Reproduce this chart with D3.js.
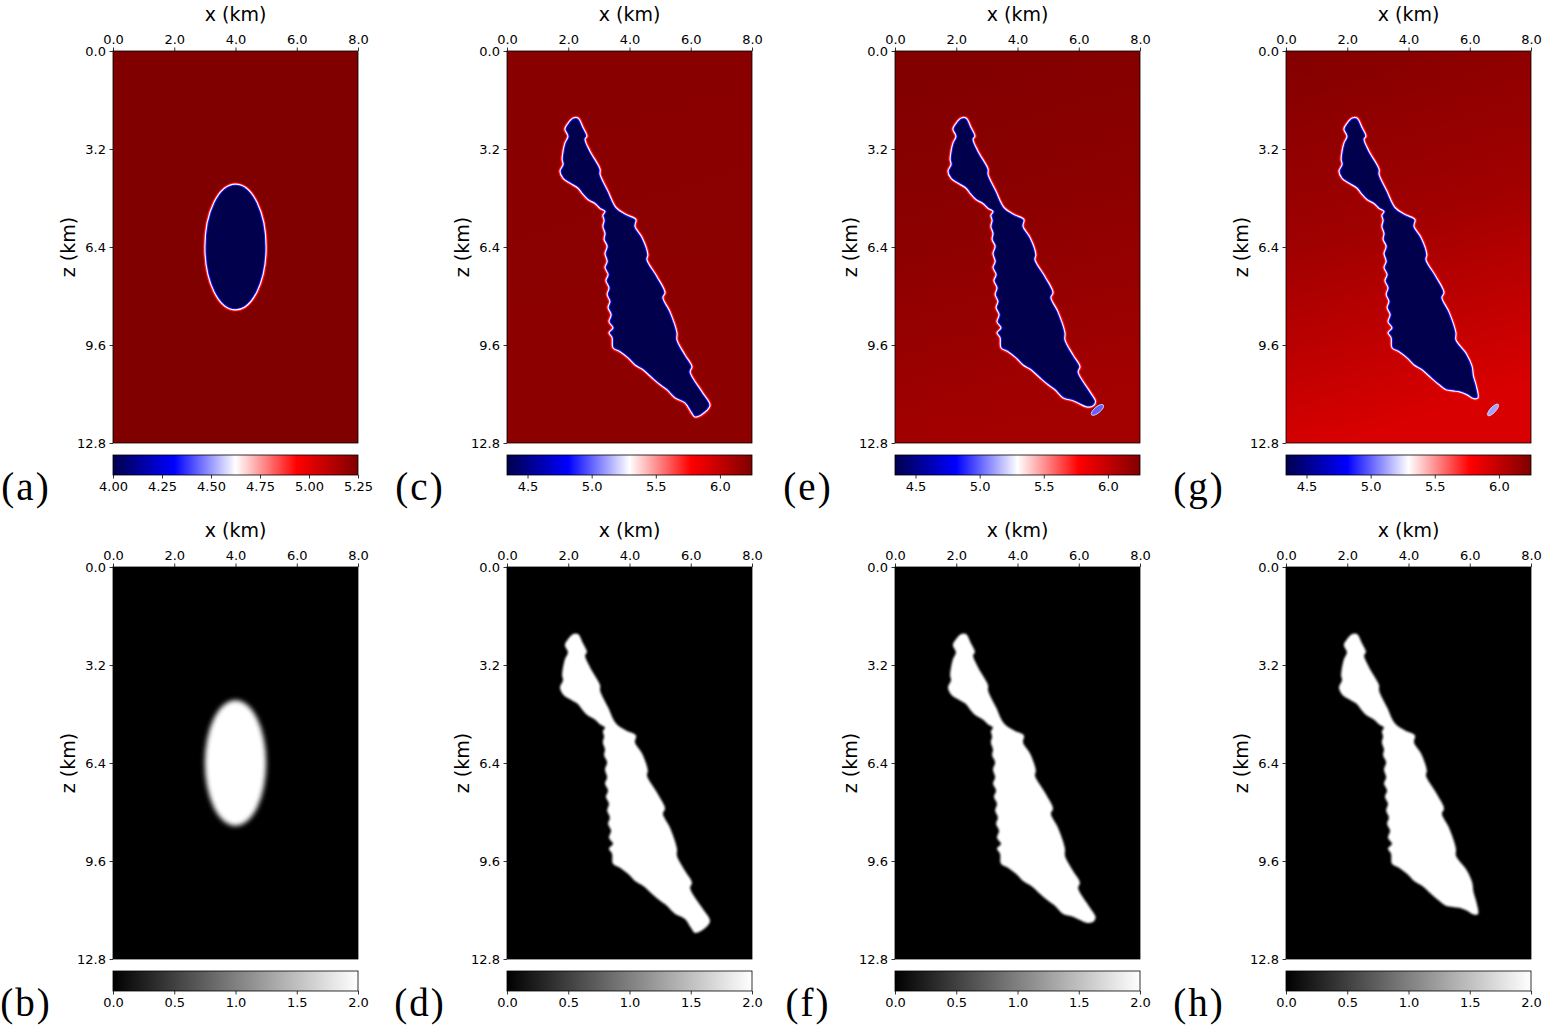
<!DOCTYPE html>
<html>
<head>
<meta charset="utf-8">
<script src="https://cdn.jsdelivr.net/npm/d3@7"></script>
<style>
  body { margin: 0; background: #fff; }
</style>
</head>
<body>
<svg id="fig"></svg>
<script>
// ---- data ----
const xTicks = [0, 2, 4, 6, 8];
const zTicks = [0, 3.2, 6.4, 9.6, 12.8];
const topLabels = ["(a)", "(c)", "(e)", "(g)"];
const bottomLabels = ["(b)", "(d)", "(f)", "(h)"];

// true model (a)/(b): ellipse, km
const ellipseCenter = [4.0, 6.4];
const ellipseRadii = [1.0, 2.05];

// salt body outline, km (x, z), clockwise from the top tip
const saltX = [2.16, 2.32, 2.48, 2.61, 2.55, 2.71, 3.04, 3.04, 3.30, 3.56, 3.89, 4.21, 4.18, 4.41, 4.60, 4.57,
  4.90, 5.16, 5.09, 5.32, 5.55, 5.55, 5.81, 6.04, 5.98, 6.37, 6.63, 6.47, 6.14, 6.01, 5.81, 5.49, 5.22, 5.00,
  4.73, 4.44, 4.18, 3.95, 3.69, 3.46, 3.43, 3.33, 3.46, 3.33, 3.40, 3.30, 3.36, 3.27, 3.33, 3.23, 3.30, 3.20,
  3.27, 3.20, 3.27, 3.17, 3.20, 3.13, 3.17, 3.13, 3.20, 3.04, 2.87, 2.64, 2.45, 2.32, 2.06, 1.83, 1.73, 1.83,
  1.80, 1.83, 1.89, 1.99, 1.89, 1.99];
const saltZ = [2.19, 2.19, 2.49, 2.78, 2.88, 3.27, 3.86, 4.03, 4.58, 5.11, 5.34, 5.50, 5.73, 6.09, 6.65, 6.81,
  7.37, 7.89, 8.05, 8.51, 9.20, 9.43, 9.92, 10.31, 10.48, 11.13, 11.56, 11.79, 11.95, 11.79, 11.49, 11.33, 11.06, 10.90,
  10.67, 10.41, 10.25, 10.02, 9.82, 9.69, 9.36, 9.20, 9.04, 8.84, 8.61, 8.38, 8.18, 7.95, 7.73, 7.50, 7.30, 7.07,
  6.87, 6.61, 6.38, 6.15, 5.96, 5.73, 5.53, 5.37, 5.24, 5.14, 4.98, 4.85, 4.65, 4.48, 4.32, 4.16, 3.93, 3.70,
  3.54, 3.27, 3.01, 2.78, 2.55, 2.36];

// inverted tips: (e)/(f) replaces outline points 26-31, (g)/(h) replaces points 23-32
const tipEX = [6.37, 6.55, 6.45, 6.25, 6.02, 5.81];
const tipEZ = [11.13, 11.45, 11.60, 11.62, 11.52, 11.42];
const tipGX = [5.90, 6.08, 6.12, 6.22, 6.27, 6.12, 5.90, 5.66, 5.45];
const tipGZ = [9.90, 10.30, 10.60, 10.95, 11.33, 11.35, 11.22, 11.13, 11.10];

// detached low-velocity blobs near the tip: [x, z, half length, half width, angle]
const blobE = [6.61, 11.72, 0.25, 0.10, -40];
const blobG = [6.76, 11.72, 0.25, 0.09, -47];
const blobVel = [5.0, 5.12];

// velocity (km/s)
const velRangeA = [4.0, 5.25];
const velTicksA = [4.0, 4.25, 4.5, 4.75, 5.0, 5.25];
const velRange = [4.34, 6.25];
const velTicks = [4.5, 5.0, 5.5, 6.0];
const ellipseVel = 4.0;
const saltVel = 4.34;
const bgDepths = [0, 6.4, 12.8];
const bgVel = [
  [5.25, 5.25, 5.25],   // (a)
  [6.22, 6.21, 6.20],   // (c)
  [6.25, 6.20, 6.12],   // (e)
  [6.24, 6.13, 5.92]    // (g)
];

// mask
const maskRange = [0, 2];
const maskTicks = [0, 0.5, 1, 1.5, 2];
const maskValue = 2;

// ---- layout ----
const W = 1550, H = 1028;
const colLeft = [113, 507, 895, 1286];
const rowTop = [51, 567];
const mapW = 245, mapH = 392;
const cbGap = 12, cbH = 20;
const tickFont = 13, labelFont = 19;
const seismicColors = ["#00004c", "#0000ff", "#ffffff", "#ff0000", "#800000"];

const svg = d3.select("#fig").attr("width", W).attr("height", H)
  .attr("font-family", "DejaVu Sans, sans-serif");
const defs = svg.append("defs");
const fmt1 = d3.format(".1f");
const fmt2 = d3.format(".2f");
const shapeLine = d3.line().curve(d3.curveCatmullRomClosed.alpha(0.5));

function seismic(range) {
  const [lo, hi] = range;
  return d3.scaleLinear()
    .domain(d3.range(5).map(i => lo + i * (hi - lo) / 4))
    .range(seismicColors)
    .clamp(true);
}
const gray = d3.scaleLinear().domain(maskRange).range(["#000000", "#ffffff"]);

function withTip(baseX, baseZ, start, count, tx, tz) {
  const xs = baseX.slice(), zs = baseZ.slice();
  xs.splice(start, count, ...tx);
  zs.splice(start, count, ...tz);
  return [xs, zs];
}
const outlineC = [saltX, saltZ];
const outlineE = withTip(saltX, saltZ, 25, 6, tipEX, tipEZ);
const outlineG = withTip(saltX, saltZ, 22, 10, tipGX, tipGZ);

function styleAxis(a) {
  a.select(".domain").remove();
  a.attr("font-size", tickFont).attr("font-family", "DejaVu Sans, sans-serif");
  a.selectAll(".tick line").attr("stroke", "#000").attr("stroke-width", 0.8);
  a.selectAll(".tick text").attr("fill", "#000");
}

function drawPanel(col, row, id, label, cb) {
  const left = colLeft[col], top = rowTop[row];
  const x = d3.scaleLinear().domain([0, 8]).range([left, left + mapW]);
  const z = d3.scaleLinear().domain([0, 12.8]).range([top, top + mapH]);
  const g = svg.append("g");

  defs.append("clipPath").attr("id", id + "-map")
    .append("rect").attr("x", left).attr("y", top).attr("width", mapW).attr("height", mapH);
  const body = g.append("g").attr("clip-path", `url(#${id}-map)`);

  // axes
  g.append("g").attr("transform", `translate(0,${top})`)
    .call(d3.axisTop(x).tickValues(xTicks).tickFormat(fmt1).tickSize(3.5).tickPadding(3.5))
    .call(styleAxis);
  g.append("g").attr("transform", `translate(${left},0)`)
    .call(d3.axisLeft(z).tickValues(zTicks).tickFormat(fmt1).tickSize(3.5).tickPadding(3.5))
    .call(styleAxis);

  g.append("text").attr("x", left + mapW / 2).attr("y", top - 30)
    .attr("text-anchor", "middle").attr("font-size", labelFont).text("x (km)");
  g.append("text")
    .attr("transform", `translate(${left - 38},${top + mapH / 2}) rotate(-90)`)
    .attr("text-anchor", "middle").attr("font-size", labelFont).text("z (km)");

  g.append("text").attr("x", left - 87).attr("y", top + 449)
    .attr("text-anchor", "middle").attr("font-family", "Liberation Serif, serif")
    .attr("font-size", 39).attr("letter-spacing", 2).text(label);

  // colorbar
  const cbTop = top + mapH + cbGap;
  const grad = defs.append("linearGradient").attr("id", id + "-cb")
    .attr("x1", 0).attr("x2", 1).attr("y1", 0).attr("y2", 0);
  const n = 20;
  d3.range(n + 1).forEach(i => {
    const v = cb.range[0] + i / n * (cb.range[1] - cb.range[0]);
    grad.append("stop").attr("offset", i / n).attr("stop-color", cb.color(v));
  });
  g.append("rect").attr("x", left).attr("y", cbTop).attr("width", mapW).attr("height", cbH)
    .attr("fill", `url(#${id}-cb)`).attr("stroke", "#000").attr("stroke-width", 0.8);
  const cbx = d3.scaleLinear().domain(cb.range).range([left, left + mapW]);
  g.append("g").attr("transform", `translate(0,${cbTop + cbH})`)
    .call(d3.axisBottom(cbx).tickValues(cb.ticks).tickFormat(cb.fmt).tickSize(3.5).tickPadding(3.5))
    .call(styleAxis);

  return { g, body, x, z, left, top, border: () =>
    g.append("rect").attr("x", left).attr("y", top).attr("width", mapW).attr("height", mapH)
      .attr("fill", "none").attr("stroke", "#000").attr("stroke-width", 0.8) };
}

// low-velocity body with the red / white / blue smoothing rim
function rimmed(p, id, makeShape, fill) {
  const clip = defs.append("clipPath").attr("id", id + "-in");
  makeShape(clip);
  makeShape(p.body).attr("fill", "none").attr("stroke", "#ff1010").attr("stroke-width", 3.6);
  makeShape(p.body).attr("fill", fill);
  makeShape(p.body).attr("fill", "none").attr("stroke", "#1a1aff").attr("stroke-width", 3.2)
    .attr("clip-path", `url(#${id}-in)`);
  makeShape(p.body).attr("fill", "none").attr("stroke", "#ffffff").attr("stroke-width", 1.2);
}

function background(p, id, vels, color) {
  const grad = defs.append("linearGradient").attr("id", id + "-bg")
    .attr("x1", 0).attr("y1", 0).attr("x2", 0.2).attr("y2", 1);
  bgDepths.forEach((d, i) => grad.append("stop")
    .attr("offset", d / 12.8).attr("stop-color", color(vels[i])));
  p.body.append("rect").attr("x", p.left).attr("y", p.top).attr("width", mapW).attr("height", mapH)
    .attr("fill", `url(#${id}-bg)`);
}

function blurFilter(id, sd) {
  defs.append("filter").attr("id", id).attr("x", "-20%").attr("y", "-20%")
    .attr("width", "140%").attr("height", "140%")
    .append("feGaussianBlur").attr("stdDeviation", sd);
}

function ellipseShape(p) {
  return sel => sel.append("ellipse")
    .attr("cx", p.x(ellipseCenter[0])).attr("cy", p.z(ellipseCenter[1]))
    .attr("rx", p.x(ellipseCenter[0] + ellipseRadii[0]) - p.x(ellipseCenter[0]))
    .attr("ry", p.z(ellipseCenter[1] + ellipseRadii[1]) - p.z(ellipseCenter[1]));
}
function outlineShape(p, ol) {
  const d = shapeLine(ol[0].map((v, i) => [p.x(v), p.z(ol[1][i])]));
  return sel => sel.append("path").attr("d", d);
}
function blob(p, b, fill) {
  const cx = p.x(b[0]), cy = p.z(b[1]);
  p.body.append("ellipse").attr("cx", cx).attr("cy", cy)
    .attr("rx", p.x(b[0] + b[2]) - p.x(b[0])).attr("ry", p.z(b[1] + b[3]) - p.z(b[1]))
    .attr("transform", `rotate(${b[4]},${cx},${cy})`)
    .attr("fill", fill).attr("stroke", "#dde0ff").attr("stroke-width", 0.8);
}

// ---- top row: velocity ----
const cbA = { range: velRangeA, ticks: velTicksA, fmt: fmt2, color: seismic(velRangeA) };
const cbV = { range: velRange, ticks: velTicks, fmt: fmt1, color: seismic(velRange) };
const outlines = [null, outlineC, outlineE, outlineG];

topLabels.forEach((lab, col) => {
  const id = "t" + col;
  const cb = col === 0 ? cbA : cbV;
  const p = drawPanel(col, 0, id, lab, cb);
  background(p, id, bgVel[col], cb.color);
  if (col === 0) {
    rimmed(p, id, ellipseShape(p), cb.color(ellipseVel));
  } else {
    rimmed(p, id, outlineShape(p, outlines[col]), cb.color(saltVel));
  }
  if (col === 2) blob(p, blobE, cb.color(blobVel[0]));
  if (col === 3) blob(p, blobG, cb.color(blobVel[1]));
  p.border();
});

// ---- bottom row: mask ----
const cbM = { range: maskRange, ticks: maskTicks, fmt: fmt1, color: gray };
blurFilter("blur-ell", 2.6);
blurFilter("blur-salt", 1.3);

bottomLabels.forEach((lab, col) => {
  const id = "b" + col;
  const p = drawPanel(col, 1, id, lab, cbM);
  p.body.append("rect").attr("x", p.left).attr("y", p.top).attr("width", mapW).attr("height", mapH)
    .attr("fill", gray(0));
  const make = col === 0 ? ellipseShape(p) : outlineShape(p, outlines[col]);
  make(p.body).attr("fill", gray(maskValue))
    .attr("filter", `url(#${col === 0 ? "blur-ell" : "blur-salt"})`);
  p.border();
});
</script>
</body>
</html>
